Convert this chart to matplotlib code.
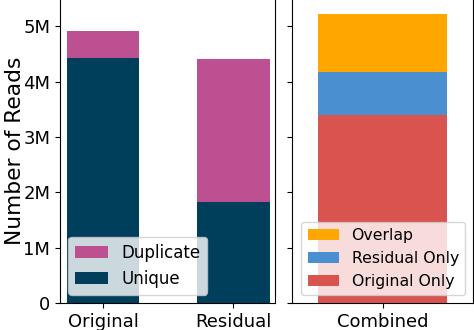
import matplotlib
matplotlib.use("Agg")
import matplotlib.pyplot as plt
from matplotlib.ticker import FuncFormatter

# Data
left_categories = ["Original", "Residual"]
unique_reads = [4.43e6, 1.83e6]
duplicate_reads = [0.48e6, 2.57e6]

right_categories = ["Combined"]
original_only = [3.40e6]
residual_only = [0.78e6]
overlap = [1.04e6]

c_unique = "#003f5c"
c_dup = "#bc5090"
c_orig = "#d9534f"
c_res = "#4a8fd0"
c_over = "#ffa600"

fig = plt.figure(figsize=(4.74, 3.30), dpi=100)
W, H = 474, 330
ax1 = fig.add_axes([60 / W, 1 - 303 / H, 215 / W, 304.5 / H])
ax2 = fig.add_axes([292 / W, 1 - 303 / H, 181 / W, 304.5 / H], sharey=ax1)

width = 0.56
x1 = range(len(left_categories))
ax1.bar(x1, unique_reads, width, color=c_unique, label="Unique")
ax1.bar(x1, duplicate_reads, width, bottom=unique_reads, color=c_dup, label="Duplicate")
ax1.set_xticks(list(x1))
ax1.set_xticklabels(left_categories)
ax1.set_xlim(-0.33, 1.32)
ax1.set_ylim(0, 5.5e6)

fmt = FuncFormatter(lambda v, p: "0" if v == 0 else f"{int(round(v / 1e6))}M")
ax1.yaxis.set_major_formatter(fmt)
ax1.set_yticks([0, 1e6, 2e6, 3e6, 4e6, 5e6])
ax1.set_ylabel("Number of Reads", fontsize=15.7)
ax1.yaxis.set_label_coords(-0.165, 0.5)
ax1.tick_params(labelsize=13)
h, l = ax1.get_legend_handles_labels()
ax1.legend(h[::-1], l[::-1], loc="lower left", fontsize=12)

x2 = range(len(right_categories))
b1 = ax2.bar(x2, original_only, width, color=c_orig, label="Original Only")
bot2 = [a + b for a, b in zip(original_only, residual_only)]
b2 = ax2.bar(x2, residual_only, width, bottom=original_only, color=c_res, label="Residual Only")
b3 = ax2.bar(x2, overlap, width, bottom=bot2, color=c_over, label="Overlap")
ax2.set_xticks(list(x2))
ax2.set_xticklabels(right_categories)
ax2.set_xlim(-0.393, 0.393)
ax2.tick_params(labelsize=13, labelleft=False)
ax2.legend([b3, b2, b1], ["Overlap", "Residual Only", "Original Only"],
           loc="lower right", fontsize=11.3)

fig.savefig("out.png", dpi=100)
